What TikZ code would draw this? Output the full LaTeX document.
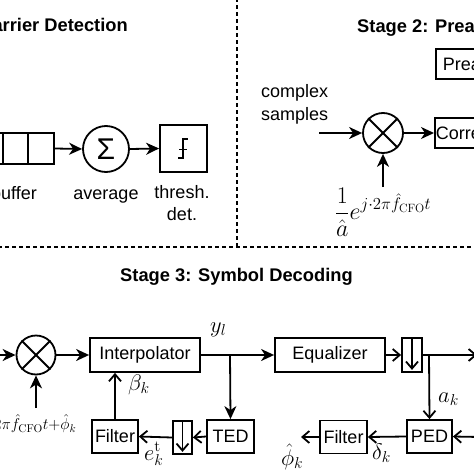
\RequirePackage{fix-cm}
\documentclass[tikz,border=0pt]{standalone}
\usepackage[no-math]{fontspec}
\setmainfont{Liberation Sans}
\usetikzlibrary{arrows.meta}
\begin{document}
\begin{tikzpicture}[x=1pt,y=-1pt,
  font=\fontsize{18}{21}\selectfont,
  lw/.style={line width=1.8pt},
  box/.style={draw, line width=1.8pt, rectangle, inner sep=0pt},
  circ/.style={draw, line width=1.8pt, circle, inner sep=0pt},
  fa/.style={line width=1.8pt, -{Stealth[length=13pt,width=12pt,inset=4pt]}},
  oa/.style={line width=1.8pt, -{Straight Barb[length=7pt,width=12pt]}},
  lbl/.style={inner sep=0pt},
  mth/.style={inner sep=0pt, font=\fontsize{22.5}{26}\selectfont},
  ttl/.style={inner sep=0pt, font=\fontsize{18.3}{21}\selectfont\bfseries},
  sep/.style={line width=1.4pt, dash pattern=on 4pt off 3pt}
]
\useasboundingbox (0,0) rectangle (474,474);
\clip (0,0) rectangle (474,474);

% separators
\coordinate (s1) at (237,-2);
\coordinate (s2) at (237,247);
\coordinate (s3) at (-2,247);
\coordinate (s4) at (476,247);
\draw[sep] (s1) -- (s2);
\draw[sep] (s3) -- (s4);

% ---------- Stage 1 ----------
\node[ttl, anchor=base east] (t1) at (128,31) {Stage 1: Carrier Detection};
\node[box, minimum width=76pt, minimum height=31pt] (buf) at (16,148.5) {};
\draw[lw] (3,133) -- (3,164);
\draw[lw] (28,133) -- (28,164);
\node[lbl, anchor=base east] (bufl) at (37,199) {buffer};
\node[circ, minimum size=46pt] (avg) at (106,149) {\fontsize{30}{30}\selectfont Σ};
\node[lbl, anchor=base] (avgl) at (106,199) {average};
\node[box, minimum width=47pt, minimum height=47pt] (thr) at (183.5,148.5) {};
\draw[line width=1.4pt] ([shift={(4,-9.5)}]thr.center) -- ([shift={(-0.5,-9.5)}]thr.center)
  -- ([shift={(-0.5,9.5)}]thr.center) -- ([shift={(-5.5,9.5)}]thr.center);
\draw[line width=1.4pt] ([shift={(-4.5,1)}]thr.center) -- ([shift={(3.5,1)}]thr.center);
\node[lbl, anchor=base] (thrl1) at (182,198) {thresh.};
\node[lbl, anchor=base] (thrl2) at (182,220) {det.};
\draw[fa] (buf.east) -- (avg.west);
\draw[fa] (avg.east) -- (thr.west);

% ---------- Stage 2 ----------
\node[ttl, anchor=base west] (t2) at (357,32) {Stage 2: Preamble Detection};
\node[box, anchor=west, minimum height=30pt, inner xsep=7pt] (pre) at (435,64) {Preamble};
\node[lbl, anchor=base west] (cs1) at (261,97) {complex};
\node[lbl, anchor=base west] (cs2) at (261,120) {samples};
\coordinate (in2) at (319,133);
\node[circ, minimum size=40pt] (m2) at (383,133) {};
\draw[lw] (m2.north west) -- (m2.south east);
\draw[lw] (m2.north east) -- (m2.south west);
\node[box, anchor=west, minimum height=30pt, inner xsep=1pt] (corr) at (434,133) {Correlator};
\node[mth, font=\fontsize{24}{27}\selectfont] (f2) at (383,212) {$\displaystyle\frac{1}{\hat a}e^{j\cdot 2\pi \hat f_{\mathrm{CFO}}t}$};
\coordinate (c2) at (383,187);
\draw[fa] (in2) -- (m2.west);
\draw[fa] (m2.east) -- (corr.west);
\draw[fa] (c2) -- (m2.south);

% ---------- Stage 3 ----------
\node[ttl, anchor=base west] (t3) at (120,281) {Stage 3: Symbol Decoding};
\coordinate (in3) at (-5,355);
\node[circ, minimum size=39pt] (m3) at (36,355) {};
\draw[lw] (m3.north west) -- (m3.south east);
\draw[lw] (m3.north east) -- (m3.south west);
\node[mth, anchor=base east] (f3) at (77,439) {$\displaystyle e^{j\cdot 2\pi \hat f_{\mathrm{CFO}}t+\hat\phi_k}$};
\coordinate (c3) at (36,408);
\node[box, minimum width=110pt, minimum height=34pt] (interp) at (145,355) {Interpolator};
\node[box, minimum width=110pt, minimum height=34pt] (equal) at (330,355) {Equalizer};
\node[box, minimum width=20pt, minimum height=34pt] (ds1) at (412,355) {};
\node[box, minimum width=47pt, minimum height=33pt] (ted) at (230.5,436.5) {TED};
\node[box, minimum width=19pt, minimum height=33pt] (ds2) at (182.5,437.5) {};
\node[box, minimum width=46pt, minimum height=33pt] (fil1) at (115,436.5) {Filter};
\node[box, minimum width=45pt, minimum height=33pt] (ped) at (429.5,436.5) {PED};
\node[box, minimum width=47pt, minimum height=33pt] (fil2) at (343.5,437) {Filter};
\coordinate (br1) at (230,355);
\coordinate (br2) at (429,355);
\coordinate (out3) at (477,355);
\coordinate (inped) at (480,437);
\coordinate (phiout) at (301,437);

\draw[oa] ([yshift=-2pt]ds1.north) -- ([yshift=3pt]ds1.south);
\draw[oa] ([yshift=-2pt]ds2.north) -- ([yshift=3pt]ds2.south);

\draw[fa] (in3) -- (m3.west);
\draw[fa] (c3) -- (m3.south);
\draw[fa] (m3.east) -- (interp.west);
\draw[fa] (interp.east) -- (equal.west);
\draw[fa] (br1) -- (ted.north);
\draw[oa] (ted.west) -- (ds2.east);
\draw[oa] (ds2.west) -- (fil1.east);
\draw[oa] (fil1.north) -- (fil1.north |- interp.south);
\draw[oa] (equal.east) -- (ds1.west);
\draw[oa] (ds1.east) -- (out3);
\draw[oa] (br2) -- (ped.north);
\draw[oa] (inped) -- (ped.east);
\draw[oa] (ped.west) -- (fil2.east);
\draw[oa] (fil2.west) -- (phiout);

\node[mth, anchor=base west] (yl) at (210,332) {$y_l$};
\node[mth, anchor=base west] (bk) at (128,390) {$\beta_k$};
\node[mth, anchor=base west] (ek) at (144,460) {$e_k^{\mathrm{t}}$};
\node[mth, anchor=base west] (ak) at (438,402) {$a_k$};
\node[mth, anchor=base west] (dk) at (372,459) {$\delta_k$};
\node[mth, anchor=base west] (pk) at (281,465) {$\hat\phi_k$};
\end{tikzpicture}
\end{document}
